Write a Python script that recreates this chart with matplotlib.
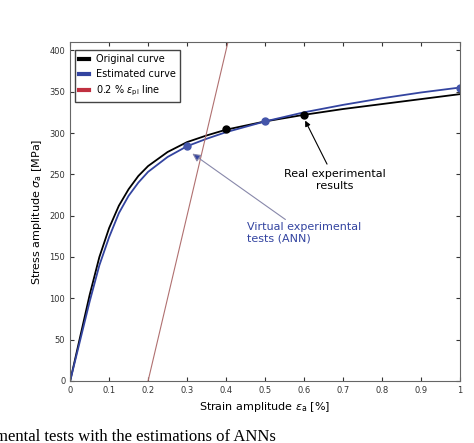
import matplotlib
matplotlib.use("Agg")
import matplotlib.pyplot as plt
import numpy as np

strain = [0, 0.025, 0.05, 0.075, 0.1, 0.125, 0.15, 0.175, 0.2, 0.25, 0.3, 0.35, 0.4, 0.5, 0.6, 0.7, 0.8, 0.9, 1.0]
orig = [0, 52, 104, 150, 185, 212, 232, 248, 260, 277, 289, 297, 304, 314, 322, 329, 335, 341, 347]
est = [0, 48, 96, 140, 174, 203, 224, 240, 253, 271, 284, 293, 301, 314, 325, 334, 342, 349, 355]
real_x = [0.4, 0.6]
real_y = [305, 322]
ann_x = [0.3, 0.5, 1.0]
ann_y = [284, 314, 354]
offset_x = [0.2, 0.41]
offset_y = [0, 420]

fig = plt.figure(figsize=(4.74, 4.43), dpi=100)
ax = fig.add_axes([0.148, 0.14, 0.822, 0.765])
ax.plot(strain, orig, color='black', lw=1.3, label='Original curve')
ax.plot(strain, est, color='#3344a0', lw=1.3, label='Estimated curve')
ax.plot(offset_x, offset_y, color='#b07070', lw=0.8, label='0.2 % $\\varepsilon_{\\rm pl}$ line')
ax.plot(real_x, real_y, 'o', color='black', ms=5)
ax.plot(ann_x, ann_y, 'o', color='#4455aa', ms=5)
ax.set_xlim(0, 1)
ax.set_ylim(0, 410)
ax.set_xticks(np.arange(0, 1.01, 0.1))
ax.set_xticklabels(['0', '0.1', '0.2', '0.3', '0.4', '0.5', '0.6', '0.7', '0.8', '0.9', '1'])
ax.set_yticks(range(0, 401, 50))
ax.tick_params(labelsize=6, direction='in', length=3, top=True, right=True, colors='#333333')
for s in ax.spines.values():
    s.set_color('#666666')
ax.set_xlabel('Strain amplitude $\\varepsilon_{\\rm a}$ [%]', fontsize=8)
ax.set_ylabel('Stress amplitude $\\sigma_{\\rm a}$ [MPa]', fontsize=8)
leg = ax.legend(loc='upper left', fontsize=7, handlelength=1.0, fancybox=False,
                edgecolor='#444444', framealpha=1, bbox_to_anchor=(0.0, 0.99))
for h in leg.get_lines():
    h.set_linewidth(3)
leg.get_lines()[2].set_color('#c03040')
ax.annotate('Real experimental\nresults', xy=(0.6, 318), xytext=(0.68, 256),
            ha='center', va='top', fontsize=8,
            arrowprops=dict(arrowstyle='-|>', color='black', lw=0.8))
ax.annotate('Virtual experimental\ntests (ANN)', xy=(0.305, 278), xytext=(0.455, 192),
            ha='left', va='top', fontsize=8, color='#3344a0',
            arrowprops=dict(arrowstyle='-|>', color='#8888aa', lw=0.8,
                            shrinkA=0, shrinkB=3, mutation_scale=12,
                            fc='#3344a0'))
fig.text(-0.01, -0.005, 'mental tests with the estimations of ANNs', fontsize=12,
         family='Liberation Serif', va='bottom', ha='left')
fig.savefig('out.png', dpi=100)
